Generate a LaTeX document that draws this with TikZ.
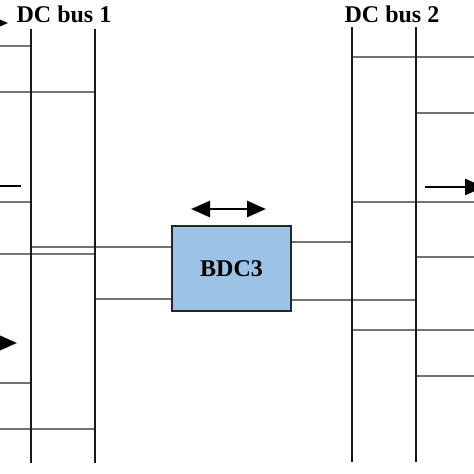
\documentclass[tikz,border=0pt]{standalone}
\usepackage{fontspec}
\setmainfont{Liberation Serif}
\usepackage{xcolor}
\usepackage{tikz}
\usetikzlibrary{arrows.meta,positioning}
\definecolor{BDCBlue}{RGB}{156,194,229}
\definecolor{WireGray}{RGB}{115,115,115}

\begin{document}
\begin{tikzpicture}[x=1pt,y=-1pt,
        bus/.style={line width=2.7pt,black!90},
        wire/.style={line width=1.3pt,WireGray},
        conv/.style={draw=black!85,line width=1.8pt,fill=BDCBlue,
                     minimum width=119pt,minimum height=85pt,
                     font=\fontsize{24}{28}\selectfont\bfseries},
        lbl/.style={font=\fontsize{24}{28}\selectfont\bfseries},
        flow/.style={line width=2.8pt,-{Triangle[length=19pt,width=16pt]}},
        bflow/.style={line width=2.8pt,{Triangle[length=19pt,width=16pt]}-{Triangle[length=19pt,width=16pt]}}
      ]
        \clip (0,0) rectangle (474,474);
        \fill[white] (0,0) rectangle (474,474);
        % bus bars
        \coordinate (b1l) at (31,29);  \coordinate (b1lb) at (31,463);
        \coordinate (b1r) at (95,29);  \coordinate (b1rb) at (95,463);
        \coordinate (b2l) at (352,27); \coordinate (b2lb) at (352,462);
        \coordinate (b2r) at (416,27); \coordinate (b2rb) at (416,462);
        \node[lbl] (T1) at (64,14) {DC bus 1};
        \node[lbl] (T2) at (392,14) {DC bus 2};
        \node[conv] (C) at (231.5,268.5) {BDC3};
        % taps of bus 1
        \draw[wire] (0,46) -- (b1l |- 0,46);
        \draw[wire] (0,92) -- (b1r |- 0,92);
        \draw[wire] (0,202) -- (b1l |- 0,202);
        \draw[wire] (0,254) -- (b1r |- 0,254);
        \draw[wire] (0,383) -- (b1l |- 0,383);
        \draw[wire] (0,429) -- (b1r |- 0,429);
        \draw[wire] (b1l |- 0,247) -- (C.west |- 0,247);
        \draw[wire] (b1r |- 0,299) -- (C.west |- 0,299);
        % taps of bus 2
        \draw[wire] (C.east |- 0,242) -- (b2l |- 0,242);
        \draw[wire] (C.east |- 0,300) -- (b2r |- 0,300);
        \draw[wire] (b2l |- 0,57) -- (474,57);
        \draw[wire] (b2r |- 0,113) -- (474,113);
        \draw[wire] (b2l |- 0,202) -- (474,202);
        \draw[wire] (b2r |- 0,257) -- (474,257);
        \draw[wire] (b2l |- 0,330) -- (474,330);
        \draw[wire] (b2r |- 0,376) -- (474,376);
        \draw[bus] (b1l) -- (b1lb); \draw[bus] (b1r) -- (b1rb);
        \draw[bus] (b2l) -- (b2lb); \draw[bus] (b2r) -- (b2rb);
        % power flow
        \coordinate (F1) at (-40,23);  \coordinate (F1e) at (8,23);
        \coordinate (F2) at (21,186);  \coordinate (F2e) at (-5,186);
        \coordinate (F3) at (-30,343); \coordinate (F3e) at (17,343);
        \coordinate (F4) at (425,187); \coordinate (F4e) at (484,187);
        \coordinate (F5) at (191,209); \coordinate (F5e) at (266,209);
        \draw[flow] (F1) -- (F1e);
        \draw[line width=2.8pt] (F2) -- (F2e);
        \draw[flow] (F3) -- (F3e);
        \draw[flow] (F4) -- (F4e);
        \draw[bflow] (F5) -- (F5e);
      \end{tikzpicture}
\end{document}
